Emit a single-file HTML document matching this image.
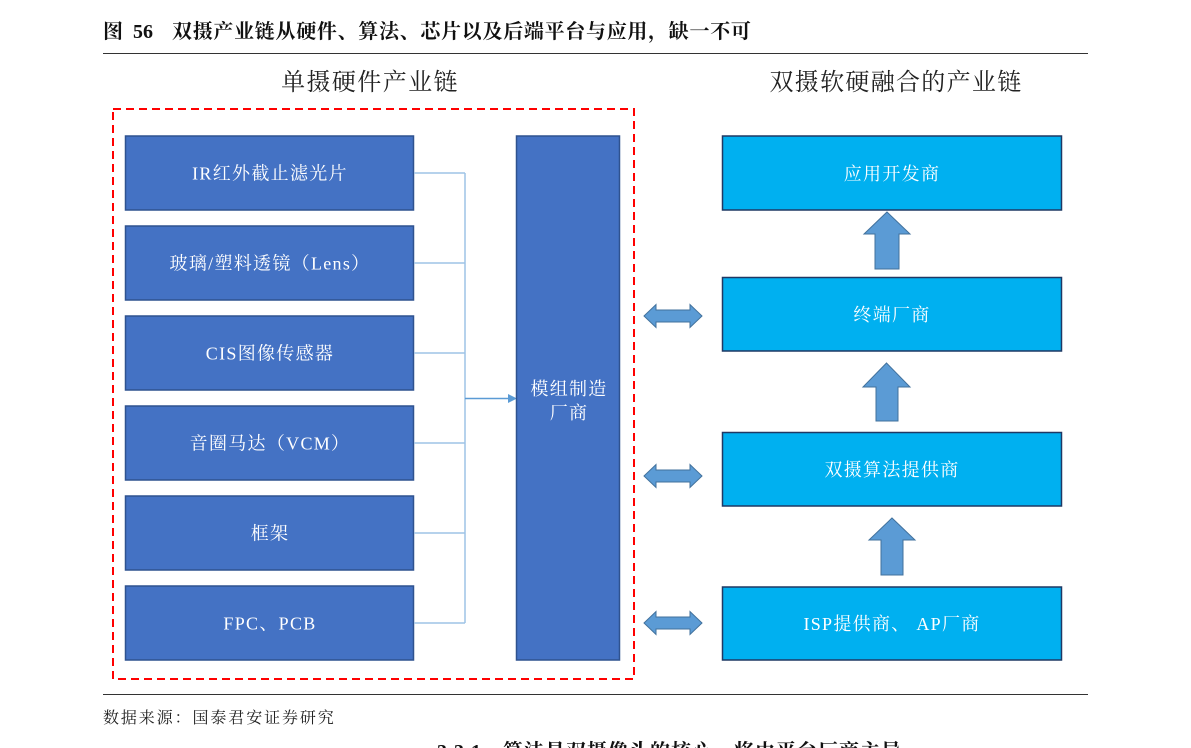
<!DOCTYPE html>
<html><head><meta charset="utf-8">
<style>
html,body{margin:0;padding:0;background:#fff;}
svg{display:block;}
.t{font-family:"Liberation Serif","Noto Serif CJK SC",serif;}
</style></head>
<body>
<svg width="1191" height="748" viewBox="0 0 1191 748" xmlns="http://www.w3.org/2000/svg">
<rect width="1191" height="748" fill="#fff"/>
<!-- title -->
<g class="t" font-size="20" font-weight="bold" fill="#111">
<text x="103" y="38">图</text>
<text x="133" y="38">56</text>
<text x="172" y="38" letter-spacing="0.7">双摄产业链从硬件、算法、芯片以及后端平台与应用，缺一不可</text>
</g>
<line x1="103" y1="53.5" x2="1088" y2="53.5" stroke="#333" stroke-width="1"/>

<!-- section headings -->
<text x="370" y="90" class="t" font-size="24" fill="#222" text-anchor="middle" letter-spacing="1.4">单摄硬件产业链</text>
<text x="896" y="90" class="t" font-size="24" fill="#222" text-anchor="middle" letter-spacing="1.3">双摄软硬融合的产业链</text>

<!-- red dashed frame -->
<rect x="113" y="109" width="521" height="570" fill="none" stroke="#FF0000" stroke-width="2" stroke-dasharray="8,5"/>

<!-- left boxes -->
<g fill="#4472C4" stroke="#2F528F" stroke-width="1.5">
<rect x="125.5" y="136" width="288" height="74"/>
<rect x="125.5" y="226" width="288" height="74"/>
<rect x="125.5" y="316" width="288" height="74"/>
<rect x="125.5" y="406" width="288" height="74"/>
<rect x="125.5" y="496" width="288" height="74"/>
<rect x="125.5" y="586" width="288" height="74"/>
</g>
<g class="t" font-size="18" fill="#fff" text-anchor="middle" letter-spacing="1.3">
<text x="270" y="179.5">IR红外截止滤光片</text>
<text x="270" y="269.5">玻璃/塑料透镜（Lens）</text>
<text x="270" y="359.5">CIS图像传感器</text>
<text x="270" y="449.5">音圈马达（VCM）</text>
<text x="270" y="539.5">框架</text>
<text x="270" y="629.5">FPC、PCB</text>
</g>

<!-- connectors -->
<g stroke="#9DC3E6" stroke-width="1.5" fill="none">
<line x1="465" y1="173" x2="465" y2="623"/>
<line x1="414" y1="173" x2="465" y2="173"/>
<line x1="414" y1="263" x2="465" y2="263"/>
<line x1="414" y1="353" x2="465" y2="353"/>
<line x1="414" y1="443" x2="465" y2="443"/>
<line x1="414" y1="533" x2="465" y2="533"/>
<line x1="414" y1="623" x2="465" y2="623"/>
</g>
<line x1="465" y1="398.5" x2="509" y2="398.5" stroke="#5B9BD5" stroke-width="1.5"/>
<polygon points="508,394 517,398.5 508,403" fill="#5B9BD5"/>

<!-- middle box -->
<rect x="516.5" y="136" width="103" height="524" fill="#4472C4" stroke="#2F528F" stroke-width="1.5"/>
<g class="t" font-size="18" fill="#fff" text-anchor="middle" letter-spacing="1.3">
<text x="569" y="395">模组制造</text>
<text x="569" y="419">厂商</text>
</g>

<!-- right boxes -->
<g fill="#00B0F0" stroke="#1F3864" stroke-width="1.5">
<rect x="722.5" y="136" width="339" height="74"/>
<rect x="722.5" y="277.5" width="339" height="73.5"/>
<rect x="722.5" y="432.5" width="339" height="73.5"/>
<rect x="722.5" y="587" width="339" height="73"/>
</g>
<g class="t" font-size="18" fill="#fff" text-anchor="middle" letter-spacing="1.3">
<text x="892" y="180">应用开发商</text>
<text x="892" y="321">终端厂商</text>
<text x="892" y="476">双摄算法提供商</text>
<text x="892" y="630">ISP提供商、 AP厂商</text>
</g>

<!-- up arrows -->
<g fill="#5B9BD5" stroke="#41719C" stroke-width="1">
<polygon points="887,212 910,234 899,234 899,269 875,269 875,234 864,234"/>
<polygon points="886.5,363 910,387 898,387 898,421 876,421 876,387 863,387"/>
<polygon points="892,518 915,540 903,540 903,575 881,575 881,540 869,540"/>
</g>

<!-- double arrows -->
<g fill="#5B9BD5" stroke="#41719C" stroke-width="1">
<polygon points="644,316 656,304.5 656,310 690,310 690,304.5 702,316 690,327.5 690,322 656,322 656,327.5"/>
<polygon points="644,476 656,464.5 656,470 690,470 690,464.5 702,476 690,487.5 690,482 656,482 656,487.5"/>
<polygon points="644,623 656,611.5 656,617 690,617 690,611.5 702,623 690,634.5 690,629 656,629 656,634.5"/>
</g>

<!-- bottom -->
<line x1="103" y1="694.5" x2="1088" y2="694.5" stroke="#333" stroke-width="1"/>
<text x="103" y="723" class="t" font-size="16" fill="#222" letter-spacing="1.9">数据来源：国泰君安证券研究</text>
<text x="437" y="758" class="t" font-size="20" font-weight="bold" fill="#111" letter-spacing="1">3.3.1　算法是双摄像头的核心，将由平台厂商主导</text>
</svg>
</body></html>
